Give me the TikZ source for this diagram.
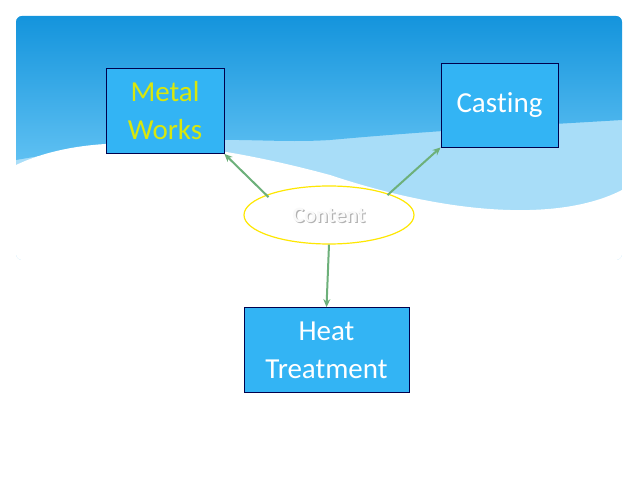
\documentclass[tikz,border=0pt]{standalone}
\usepackage{fontspec}
\setmainfont{Carlito}[Ligatures={NoCommon,NoDiscretionary}]
\usetikzlibrary{arrows.meta,shapes.geometric}
\begin{document}
\begin{tikzpicture}[x=1pt,y=-1pt,
 box/.style={draw=black!70!blue,line width=0.8pt,fill=boxblue,minimum width=#1,align=center,font=\fontsize{29}{38}\selectfont,inner sep=0pt},
 arr/.style={draw=arrgreen,line width=2pt,-{Stealth[length=8pt,width=7pt]}}]
\definecolor{boxblue}{HTML}{33B4F4}
\definecolor{arrgreen}{HTML}{6DB07A}
\definecolor{topblue}{HTML}{1494DC}
\definecolor{lowblue}{HTML}{5EC0F2}
\definecolor{bandblue}{HTML}{A8DDF8}
\useasboundingbox (0,0) rectangle (638,478);
% banner
\begin{scope}
\clip[rounded corners=6pt] (16,16) rectangle (622,260);
\fill[bandblue] (16,16) rectangle (622,260);
\shade[top color=topblue,bottom color=lowblue] (16,16) -- (622,16) -- (622,120) .. controls (540,125) and (440,130) .. (330,140) .. controls (250,145) and (200,128) .. (16,160) -- cycle;
\fill[white] (16,165) .. controls (90,130) and (200,140) .. (330,175) .. controls (450,215) and (560,222) .. (622,190) -- (622,262) -- (14,262) -- cycle;
\end{scope}
\node[box=118pt,minimum height=85pt,text=yellow!85!green] (mw) at (165,111) {Metal\\Works};
\node[box=117pt,minimum height=84pt,text=white] (ca) at (499.5,105) {Cas\kern0pt ting};
\node[box=165pt,minimum height=85pt,text=white] (ht) at (326.5,350) {Heat\\Treatment};
\node[draw=yellow!90!orange,line width=1.2pt,ellipse,minimum width=170pt,minimum height=58pt,fill=white] (ct) at (329,215) {};
\node[text=gray!60,font=\fontsize{22}{26}\selectfont\bfseries] (ctsh) at (330.2,216.2) {Content};
\node[text=white!95!gray,font=\fontsize{22}{26}\selectfont\bfseries] (ctl) at (329,215) {Content};
\draw[arr] ([yshift=-3pt]ct.north west) -- (mw.south east);
\draw[arr] ([shift={(-2pt,-1pt)}]ct.north east) -- (ca.south west);
\draw[arr] (ct.south) -- (ht.north);
\end{tikzpicture}
\end{document}
